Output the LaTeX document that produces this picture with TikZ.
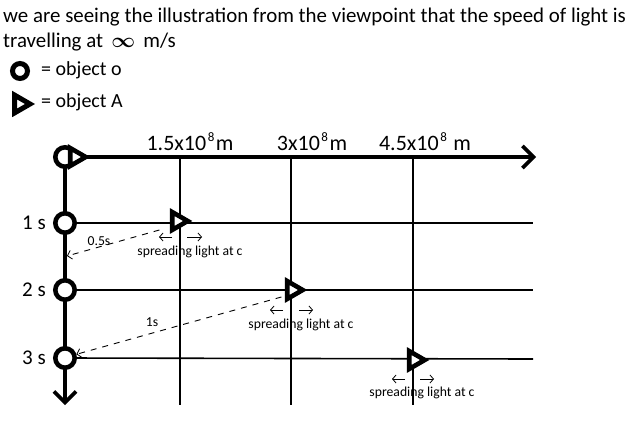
\documentclass[tikz,border=0pt]{standalone}
\usepackage{amsmath}
\usepackage{fontspec}
\setmainfont{Carlito}
\usetikzlibrary{arrows.meta,shapes.geometric,backgrounds}
\newcommand{\supeight}{\kern1.5pt\raisebox{8.5pt}{\fontsize{13}{13}\selectfont 8}\kern1.5pt}
\begin{document}
\begin{tikzpicture}[x=1pt,y=-1pt,
  thickl/.style={line width=4.2pt},
  gridl/.style={line width=1.6pt},
  objo/.style={circle,draw,fill=white,line width=4.6pt,minimum size=19.4pt,inner sep=0pt},
  obja/.style={regular polygon,regular polygon sides=3,rotate=-90,draw,fill=white,line width=4.6pt,minimum size=20.6pt,inner sep=0pt,line join=miter},
  bigtip/.style={-{Straight Barb[length=11pt,width=22pt,line width=3.6pt]}},
  smallarr/.style={line width=0.8pt,-{Straight Barb[length=3.5pt,width=8pt]}},
  dasharr/.style={line width=0.9pt,dash pattern=on 6pt off 6pt,-{Straight Barb[length=4pt,width=9pt,line width=0.8pt]}},
  bigtxt/.style={font=\fontsize{20.9}{24}\selectfont,inner sep=0pt},
  legtxt/.style={font=\fontsize{20}{24}\selectfont,inner sep=0pt,anchor=base west},
  axtxt/.style={font=\fontsize{22}{25}\selectfont,inner sep=0pt,anchor=base},
  ticktxt/.style={font=\fontsize{21}{24}\selectfont,inner sep=0pt,anchor=east},
  smalltxt/.style={font=\fontsize{13.7}{16}\selectfont,inner sep=0pt}
]
\useasboundingbox (0,0) rectangle (634,441);

% header text
\node[bigtxt,anchor=base west] (l1) at (3,23) {we are seeing the illustration from the viewpoint that the speed of light is};
\node[bigtxt,anchor=base west] (l2) at (3,48) {travelling at \,$\boldsymbol{\infty}$\, m/s};

% legend
\node[objo,line width=5pt,minimum size=15pt] (lego) at (20,71) {};
\node[legtxt] (lego t) at (41,76) {= object o};
\node[obja,line width=5pt,minimum size=20.6pt] (lega) at (19.7,104) {};
\node[legtxt] (lega t) at (41,108) {= object A};

% grid coordinates
\coordinate (axend) at (536,157);
\coordinate (vend) at (65,405);
\coordinate (g1t) at (180,157); \coordinate (g1b) at (180,405);
\coordinate (g2t) at (291,157); \coordinate (g2b) at (291,405);
\coordinate (g3t) at (413,157); \coordinate (g3b) at (413,405);
\coordinate (h1) at (533,223);
\coordinate (h2) at (533,290);
\coordinate (h3) at (533,359);

% objects O
\node[objo] (c0) at (65,157) {};
\node[obja] (t0) at (75.4,157) {};
\node[objo] (c1) at (65,223) {};
\node[objo] (c2) at (65,290) {};
\node[objo] (c3) at (65,358) {};

% objects A
\node[obja] (t1) at (177.4,221) {};
\node[obja] (t2) at (292.4,290) {};
\node[obja] (t3) at (414.4,360) {};

% tick labels
\node[ticktxt] (s1) at (46,223) {1 s};
\node[ticktxt] (s2) at (46,290) {2 s};
\node[ticktxt] (s3) at (46,358) {3 s};

% axis labels
\node[axtxt] (x1) at (190,150) {1.5x10\supeight m};
\node[axtxt] (x2) at (312,150) {3x10\supeight m};
\node[axtxt] (x3) at (425,150) {4.5x10\supeight\ m};

\begin{scope}[on background layer]
  \draw[gridl] (g1t) -- (g1b);
  \draw[gridl] (g2t) -- (g2b);
  \draw[gridl] (g3t) -- (g3b);
  \draw[gridl] (c1) -- (h1);
  \draw[gridl] (c2) -- (h2);
  \draw[gridl] (c3.center) -- (h3);
  \draw[thickl,bigtip] (c0.center) -- (axend);
  \draw[thickl] (c0.center) -- (c1.center) -- (c2.center) -- (c3.center);
  \draw[thickl,bigtip] (c3.center) -- (vend);
\end{scope}

% spreading light arrows
\draw[smallarr] (172,237) -- (159,237);
\draw[smallarr] (187,237) -- (202,237);
\node[smalltxt] (sp1) at (190,252) {spreading light at c};
\draw[smallarr] (283,310) -- (270,310);
\draw[smallarr] (299,310) -- (313,310);
\node[smalltxt] (sp2) at (301,325) {spreading light at c};
\draw[smallarr] (405,379) -- (392,379);
\draw[smallarr] (420,379) -- (434,379);
\node[smalltxt] (sp3) at (422,393) {spreading light at c};

% light paths
\coordinate (d1e) at (67,256);
\draw[dasharr] ([shift={(-18,9)}]t1.center) -- (d1e);
\node[smalltxt] (lab1) at (99,241) {0.5s};
\draw[dasharr] ([shift={(-11,7)}]t2.center) -- (c3.18);
\node[smalltxt] (lab2) at (152,322) {1s};

\end{tikzpicture}
\end{document}
